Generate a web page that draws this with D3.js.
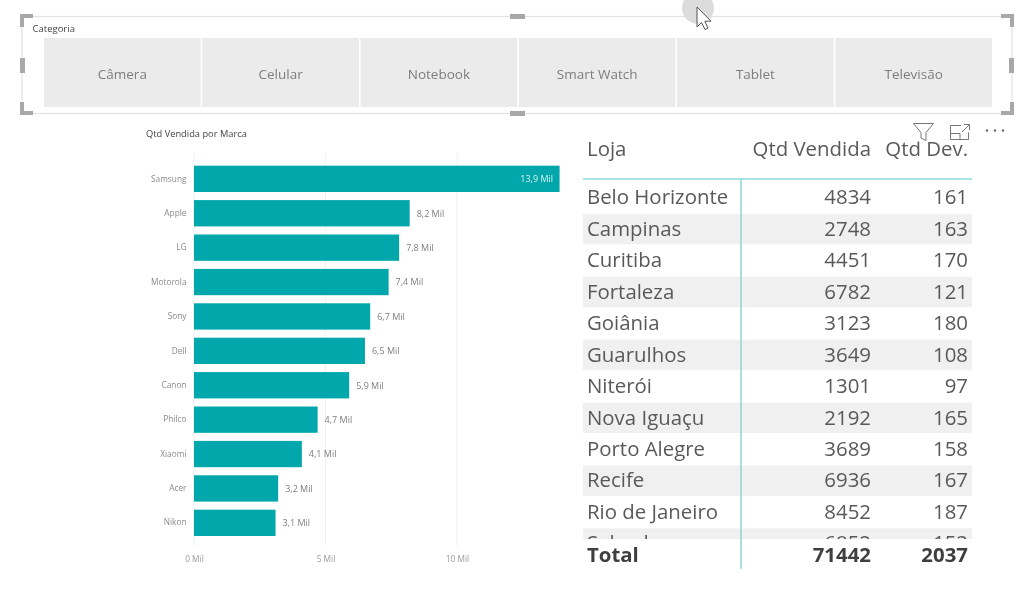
<!DOCTYPE html>
<html>
<head>
<meta charset="utf-8">
<script src="https://cdn.jsdelivr.net/npm/d3@7"></script>
<style>
body { margin:0; background:#fff; overflow:hidden; }
svg { display:block; font-family:"Open Sans",sans-serif; filter:blur(0.35px); }
</style>
</head>
<body>
<svg id="chart" width="1024" height="594"></svg>
<script>
var categorias = ["Câmera","Celular","Notebook","Smart Watch","Tablet","Televisão"];

var marcas = ["Samsung","Apple","LG","Motorola","Sony","Dell","Canon","Philco","Xiaomi","Acer","Nikon"];
var qtdMarca = [13900,8200,7800,7400,6700,6500,5900,4700,4100,3200,3100];
var eixoTicks = [0,5000,10000];

var lojas = ["Belo Horizonte","Campinas","Curitiba","Fortaleza","Goiânia","Guarulhos","Niterói","Nova Iguaçu","Porto Alegre","Recife","Rio de Janeiro","Salvador"];
var qtdVendida = [4834,2748,4451,6782,3123,3649,1301,2192,3689,6936,8452,6852];
var qtdDev = [161,163,170,121,180,108,97,165,158,167,187,153];
var totais = ["Total","71442","2037"];
var colunas = ["Loja","Qtd Vendida","Qtd Dev."];

var svg = d3.select("#chart");

function mil(v){
	return (v/1000).toFixed(1).replace(".",",") + " Mil";
}

// SLICER
var slicer = svg.append("g");
slicer.append("rect").attr("x",22).attr("y",16.5).attr("width",990).attr("height",97)
	.attr("fill","#fff").attr("stroke","#e2e2e2").attr("stroke-width",1.2);
slicer.append("text").attr("x",32.5).attr("y",32).attr("font-size",9.5).attr("fill","#444").text("Categoria");

var xBtn = d3.scaleBand().domain(categorias).range([44,992]).paddingInner(0.01);
slicer.selectAll("rect.btn").data(categorias).enter().append("rect").attr("class","btn")
	.attr("x",function(d){ return xBtn(d); }).attr("y",38)
	.attr("width",xBtn.bandwidth()).attr("height",69).attr("fill","#ebebeb");
slicer.selectAll("text.btn").data(categorias).enter().append("text").attr("class","btn")
	.attr("x",function(d){ return xBtn(d) + xBtn.bandwidth()/2; }).attr("y",78.5)
	.attr("text-anchor","middle").attr("font-size",13.5).attr("fill","#7d7d7d").text(function(d){ return d; });

// selection handles
var handleColor = "#a8a8a8";
[[22,16,1,1],[1012,16,-1,1],[22,113,1,-1],[1012,113,-1,-1]].forEach(function(c){
	slicer.append("path").attr("fill",handleColor)
		.attr("d","M"+(c[0]-c[2]*2)+","+(c[1]-c[3]*2)+"h"+(c[2]*13)+"v"+(c[3]*4)+"h"+(c[2]*-9)+"v"+(c[3]*9)+"h"+(c[2]*-4)+"z");
});
[[510,14,15,5],[510,111,15,5],[20,58,5,15],[1009,58,5,15]].forEach(function(h){
	slicer.append("rect").attr("x",h[0]).attr("y",h[1]).attr("width",h[2]).attr("height",h[3]).attr("fill",handleColor);
});

// BAR CHART
svg.append("text").attr("x",146).attr("y",137).attr("font-size",9.3).attr("fill","#444").text("Qtd Vendida por Marca");

var x = d3.scaleLinear().domain([0,10000]).range([194,457]);
var y = d3.scaleBand().domain(marcas).range([165.7,536]).paddingInner(0.235);

svg.append("g").selectAll("line").data(eixoTicks).enter().append("line")
	.attr("x1",function(d){ return x(d); }).attr("x2",function(d){ return x(d); })
	.attr("y1",153).attr("y2",546).attr("stroke","#eef3f3").attr("stroke-width",1);

var eixoX = svg.append("g").attr("transform","translate(0,552)")
	.call(d3.axisBottom(x).tickValues(eixoTicks).tickSize(0).tickFormat(function(d){ return (d/1000) + " Mil"; }));
eixoX.select(".domain").remove();
eixoX.selectAll("text").attr("font-family","Open Sans").attr("font-size",8.3).attr("fill","#9a9a9a").attr("dy",0).attr("y",10);

var eixoY = svg.append("g").attr("transform","translate(186.5,0)")
	.call(d3.axisLeft(y).tickSize(0).tickPadding(0));
eixoY.select(".domain").remove();
eixoY.selectAll("text").attr("font-family","Open Sans").attr("font-size",8.3).attr("fill","#8a8a8a");

svg.selectAll("rect.bar").data(marcas).enter().append("rect").attr("class","bar")
	.attr("x",x(0)).attr("y",function(d){ return y(d); })
	.attr("width",function(d,i){ return x(qtdMarca[i]) - x(0); })
	.attr("height",y.bandwidth()).attr("fill","#01a7ab");

svg.selectAll("text.val").data(marcas).enter().append("text").attr("class","val")
	.attr("x",function(d,i){ return i == 0 ? x(qtdMarca[i]) - 6.5 : x(qtdMarca[i]) + 7; })
	.attr("y",function(d){ return y(d) + y.bandwidth()/2 + 3.3; })
	.attr("text-anchor",function(d,i){ return i == 0 ? "end" : "start"; })
	.attr("font-size",9).attr("fill",function(d,i){ return i == 0 ? "#d8f3f3" : "#808080"; })
	.text(function(d,i){ return mil(qtdMarca[i]); });

// TABLE
var left = 583, right = 972, fonte = 20.4;
var yRow = d3.scaleBand().domain(lojas).range([182.4,182.4+31.45*lojas.length]);

svg.append("clipPath").attr("id","corpo").append("rect").attr("x",left).attr("y",180).attr("width",right-left).attr("height",359);
var corpo = svg.append("g").attr("clip-path","url(#corpo)");

corpo.selectAll("rect").data(lojas).enter().append("rect")
	.attr("x",left).attr("y",function(d){ return yRow(d); })
	.attr("width",right-left).attr("height",yRow.bandwidth()-1)
	.attr("fill",function(d,i){ return i % 2 == 1 ? "#f0f0f0" : "#fff"; });

function linha(g,valores,ty,peso,cor){
	g.append("text").attr("x",587).attr("y",ty).attr("font-size",fonte).attr("font-weight",peso).attr("fill",cor).text(valores[0]);
	g.append("text").attr("x",871).attr("y",ty).attr("text-anchor","end").attr("font-size",fonte).attr("font-weight",peso).attr("fill",cor).text(valores[1]);
	g.append("text").attr("x",968).attr("y",ty).attr("text-anchor","end").attr("font-size",fonte).attr("font-weight",peso).attr("fill",cor).text(valores[2]);
}
lojas.forEach(function(d,i){
	linha(corpo,[d,qtdVendida[i],qtdDev[i]],yRow(d)+22,400,"#595959");
});

var cabecalho = svg.append("g");
linha(cabecalho,colunas,156,400,"#595959");
// toolbar of the visual covers the top of the last header
svg.append("rect").attr("x",905).attr("y",120).attr("width",110).attr("height",21.5).attr("fill","#fff");

linha(svg,totais,562,700,"#3f3f3f");

svg.append("line").attr("x1",left).attr("x2",right).attr("y1",179).attr("y2",179).attr("stroke","#8fd8da").attr("stroke-width",1.3);
svg.append("line").attr("x1",741).attr("x2",741).attr("y1",179).attr("y2",569).attr("stroke","#7fcfd2").attr("stroke-width",1.3);

// VISUAL TOOLBAR ICONS
var icones = svg.append("g").attr("fill","none").attr("stroke","#777").attr("stroke-width",1);
icones.append("path").attr("d","M913.5,123.5h20l-7.5,9v8l-5,-2.5v-5.5z");
icones.append("path").attr("d","M961,125.5h-10.5v14h18v-7M960,139.5v-6h-9.5M962,132l7,-7M964,124.5h5.5v5.5");
svg.selectAll("circle.dot").data([987,995,1003]).enter().append("circle").attr("class","dot")
	.attr("cx",function(d){ return d; }).attr("cy",130.5).attr("r",1.2).attr("fill","#666");

// MOUSE CURSOR
svg.append("circle").attr("cx",698).attr("cy",8).attr("r",16).attr("fill","#dcdcdc");
svg.append("path").attr("fill","#fff").attr("stroke","#555").attr("stroke-width",1)
	.attr("d","M697,7v20l4.5,-4.5l3.5,7l3,-1.5l-3.2,-6.8h6.2z");
</script>
</body>
</html>
